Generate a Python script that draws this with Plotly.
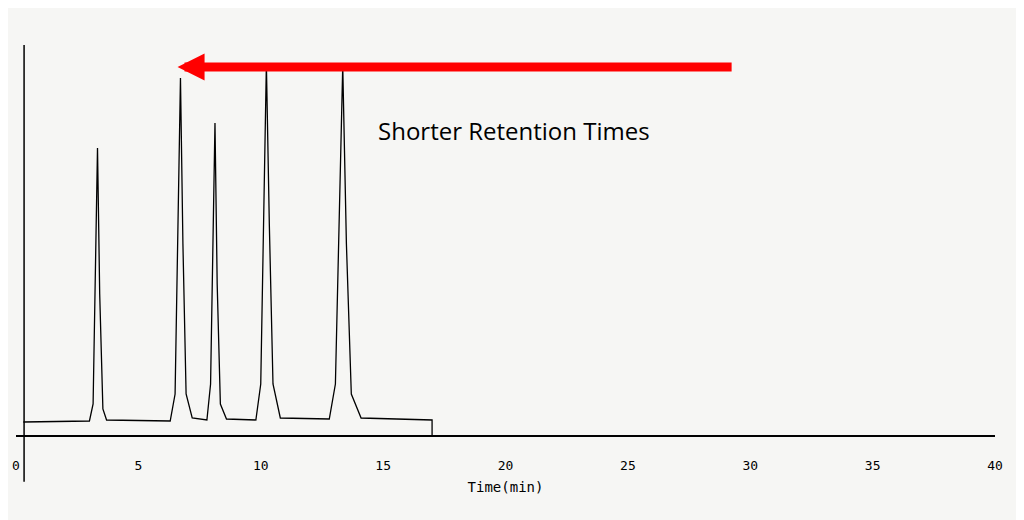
import plotly.graph_objects as go

time_min = [0.3, 3.0, 3.15, 3.25, 3.33, 3.42, 3.55, 3.7,
            6.3, 6.5, 6.62, 6.72, 6.82, 6.95, 7.2,
            7.8, 7.95, 8.05, 8.13, 8.22, 8.35, 8.6,
            9.8, 10.0, 10.13, 10.23, 10.35, 10.5, 10.8,
            12.8, 13.05, 13.22, 13.35, 13.5, 13.7, 14.1,
            17.0, 17.0]
signal = [2, 3, 20, 150, 276, 130, 15, 4,
          3, 30, 200, 346, 180, 30, 6,
          4, 40, 190, 301, 140, 20, 5,
          4, 40, 230, 360, 200, 40, 6,
          5, 40, 230, 358, 180, 30, 6,
          4, -11]
x_ticks = [0, 5, 10, 15, 20, 25, 30, 35, 40]

fig = go.Figure()
fig.add_trace(go.Scatter(x=time_min, y=signal, mode="lines",
                         line=dict(color="black", width=1.3), hoverinfo="skip",
                         cliponaxis=False))
fig.add_shape(type="line", xref="x", yref="paper", x0=0.33, x1=0.33, y0=-0.12, y1=1.0,
              line=dict(color="black", width=1.5))
fig.add_annotation(x=6.6, y=357, ax=29.3, ay=357, xref="x", yref="y", axref="x", ayref="y",
                   showarrow=True, arrowhead=2, arrowsize=0.6, arrowwidth=9, arrowcolor="#ff0000", text="")
fig.add_annotation(x=14.7, y=294, xref="x", yref="y", text="Shorter Retention Times",
                   showarrow=False, xanchor="left", font=dict(family="Open Sans", size=24, color="black"))
fig.update_layout(
    width=1024, height=520, margin=dict(l=4, r=37, t=37, b=93),
    paper_bgcolor="#f6f6f4", plot_bgcolor="#f6f6f4", showlegend=False,
    xaxis=dict(range=[0, 40], tickvals=x_ticks, showgrid=False, zeroline=False,
               showline=True, linecolor="black", linewidth=1.5, ticks="",
               ticklabelstandoff=18, tickfont=dict(family="DejaVu Sans Mono", size=13, color="black"),
               title=dict(text="Time(min)", standoff=10,
                          font=dict(family="DejaVu Sans Mono", size=14, color="black"))),
    yaxis=dict(range=[-11, 379], visible=False),
)
fig.write_html("out.html")
